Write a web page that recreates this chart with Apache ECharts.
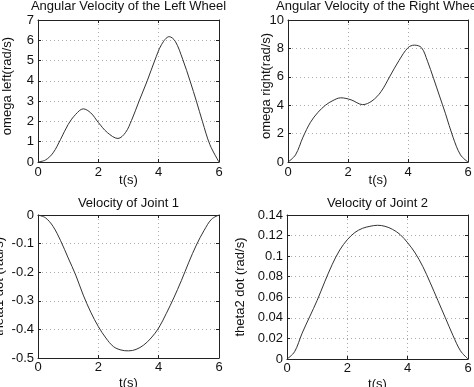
<!DOCTYPE html>
<html>
<head>
<meta charset="utf-8">
<script src="https://cdn.jsdelivr.net/npm/echarts@6/dist/echarts.min.js"></script>
<style>html,body{margin:0;padding:0;background:#fff;}#c{width:474px;height:387px;}</style>
</head>
<body>
<div id="c"></div>
<script>
// time samples (s)
const tLeft  = [0,0.25,0.5,0.75,1,1.25,1.5,1.75,2,2.3,2.65,2.9,3.1,3.35,3.62,3.87,4.1,4.35,4.55,4.8,5.05,5.25,5.45,5.7,6];
const tRight = [0,0.25,0.5,0.75,1,1.25,1.5,1.76,2.1,2.49,2.8,3.1,3.4,3.7,4,4.21,4.45,4.65,4.85,5.05,5.25,5.5,5.75,6];
const tJoint = [0,0.25,0.5,0.75,1,1.25,1.5,1.75,2,2.25,2.5,2.75,3,3.25,3.5,3.75,4,4.25,4.5,4.75,5,5.25,5.5,5.75,6];
// series values
const omegaLeft  = [0,0.1,0.45,1.12,1.85,2.35,2.62,2.42,1.95,1.45,1.16,1.45,2.05,3.0,4.0,5.0,5.8,6.18,5.95,5.05,3.95,3.0,2.0,0.85,0];
const omegaRight = [0,0.5,1.75,2.8,3.5,4.0,4.33,4.52,4.38,4.04,4.3,4.95,6.05,7.15,8.05,8.23,8.05,7.1,5.9,4.65,3.4,1.75,0.5,0];
const theta1Dot  = [0,-0.01,-0.04,-0.09,-0.15,-0.21,-0.28,-0.34,-0.39,-0.43,-0.46,-0.472,-0.475,-0.47,-0.455,-0.43,-0.395,-0.345,-0.29,-0.23,-0.165,-0.105,-0.055,-0.015,0];
const theta2Dot  = [0,0.007,0.025,0.041,0.057,0.075,0.092,0.106,0.116,0.123,0.127,0.129,0.13,0.129,0.126,0.121,0.113,0.103,0.09,0.074,0.057,0.04,0.023,0.008,0];
// titles and axis names
const titles = ['Angular Velocity of the Left Wheel','Angular Velocity of the Right Wheel','Velocity of Joint 1','Velocity of Joint 2'];
const yNames = ['omega left(rad/s)','omega right(rad/s)','theta1 dot (rad/s)','theta2 dot (rad/s)'];
const xName = 't(s)';
// y-axis ranges [min, max, interval]
const yRanges = [[0,7,1],[0,10,2],[-0.5,0,0.1],[0,0.14,0.02]];
const xRange = [0,6,2];

const FONT = "'Liberation Sans', Arial, Helvetica, sans-serif";
const grids = [
  {left:38, top:20, width:181, height:142},
  {left:288, top:20, width:180, height:142},
  {left:38, top:215, width:181, height:143},
  {left:287, top:215, width:181, height:144}
];
const yGaps = [24, 15, 32, 40];
const yPads = [[0,0,0,10],[0,0,0,10],[0,0,0,0],[0,0,0,0]];
const xGaps = [12, 12, 19, 19];
const xMargins = [4, 4, 3, 3];
const xs = [tLeft, tRight, tJoint, tJoint];
const series = [omegaLeft, omegaRight, theta1Dot, theta2Dot];

const lineC = '#222';
const txt = {color:'#111', fontFamily:FONT, fontSize:13};
const option = {
  animation:false,
  backgroundColor:'#fff',
  title: titles.map((s,i)=>({
    text:s, left: grids[i].left + grids[i].width/2, textAlign:'center',
    top: i<2 ? 0 : 197, padding:0,
    textStyle:{color:'#111', fontFamily:FONT, fontSize:13, fontWeight:'normal'}
  })),
  grid: grids.map(g=>Object.assign({show:false, containLabel:false, outerBoundsMode:'none'}, g)),
  xAxis: [],
  yAxis: [],
  series: []
};
grids.forEach((g,i)=>{
  option.xAxis.push({
    type:'value', gridIndex:i, min:xRange[0], max:xRange[1], interval:xRange[2], position:'bottom',
    name:xName, nameLocation:'middle', nameGap:xGaps[i], nameTextStyle:txt, nameMoveOverlap:false,
    axisLine:{show:true, onZero:false, lineStyle:{color:lineC, width:1}},
    axisTick:{show:true, inside:true, length:3, lineStyle:{color:lineC}},
    axisLabel:Object.assign({margin:xMargins[i]}, txt),
    splitLine:{show:true, lineStyle:{color:'#aaa', type:[1,3], width:1}}
  });
  option.xAxis.push({
    type:'value', gridIndex:i, min:xRange[0], max:xRange[1], interval:xRange[2], position:'top',
    axisLine:{show:true, onZero:false, lineStyle:{color:lineC, width:1}},
    axisTick:{show:true, inside:true, length:3, lineStyle:{color:lineC}},
    axisLabel:{show:false}, splitLine:{show:false}
  });
  const r = yRanges[i];
  option.yAxis.push({
    type:'value', gridIndex:i, min:r[0], max:r[1], interval:r[2], position:'left',
    name:yNames[i], nameLocation:'middle', nameGap:yGaps[i], nameMoveOverlap:false,
    nameTextStyle:Object.assign({padding:yPads[i]}, txt),
    axisLine:{show:true, onZero:false, lineStyle:{color:lineC, width:1}},
    axisTick:{show:true, inside:true, length:3, lineStyle:{color:lineC}},
    axisLabel:Object.assign({margin:4}, txt),
    splitLine:{show:true, lineStyle:{color:'#aaa', type:[1,3], width:1}}
  });
  option.yAxis.push({
    type:'value', gridIndex:i, min:r[0], max:r[1], interval:r[2], position:'right',
    axisLine:{show:true, onZero:false, lineStyle:{color:lineC, width:1}},
    axisTick:{show:true, inside:true, length:3, lineStyle:{color:lineC}},
    axisLabel:{show:false}, splitLine:{show:false}
  });
  option.series.push({
    type:'line', xAxisIndex:2*i, yAxisIndex:2*i, smooth:0.35, symbol:'none',
    lineStyle:{color:'#333', width:1},
    data: xs[i].map((x,k)=>[x, series[i][k]])
  });
});
const chart = echarts.init(document.getElementById('c'), null, {renderer:'canvas'});
chart.setOption(option);
</script>
</body>
</html>
